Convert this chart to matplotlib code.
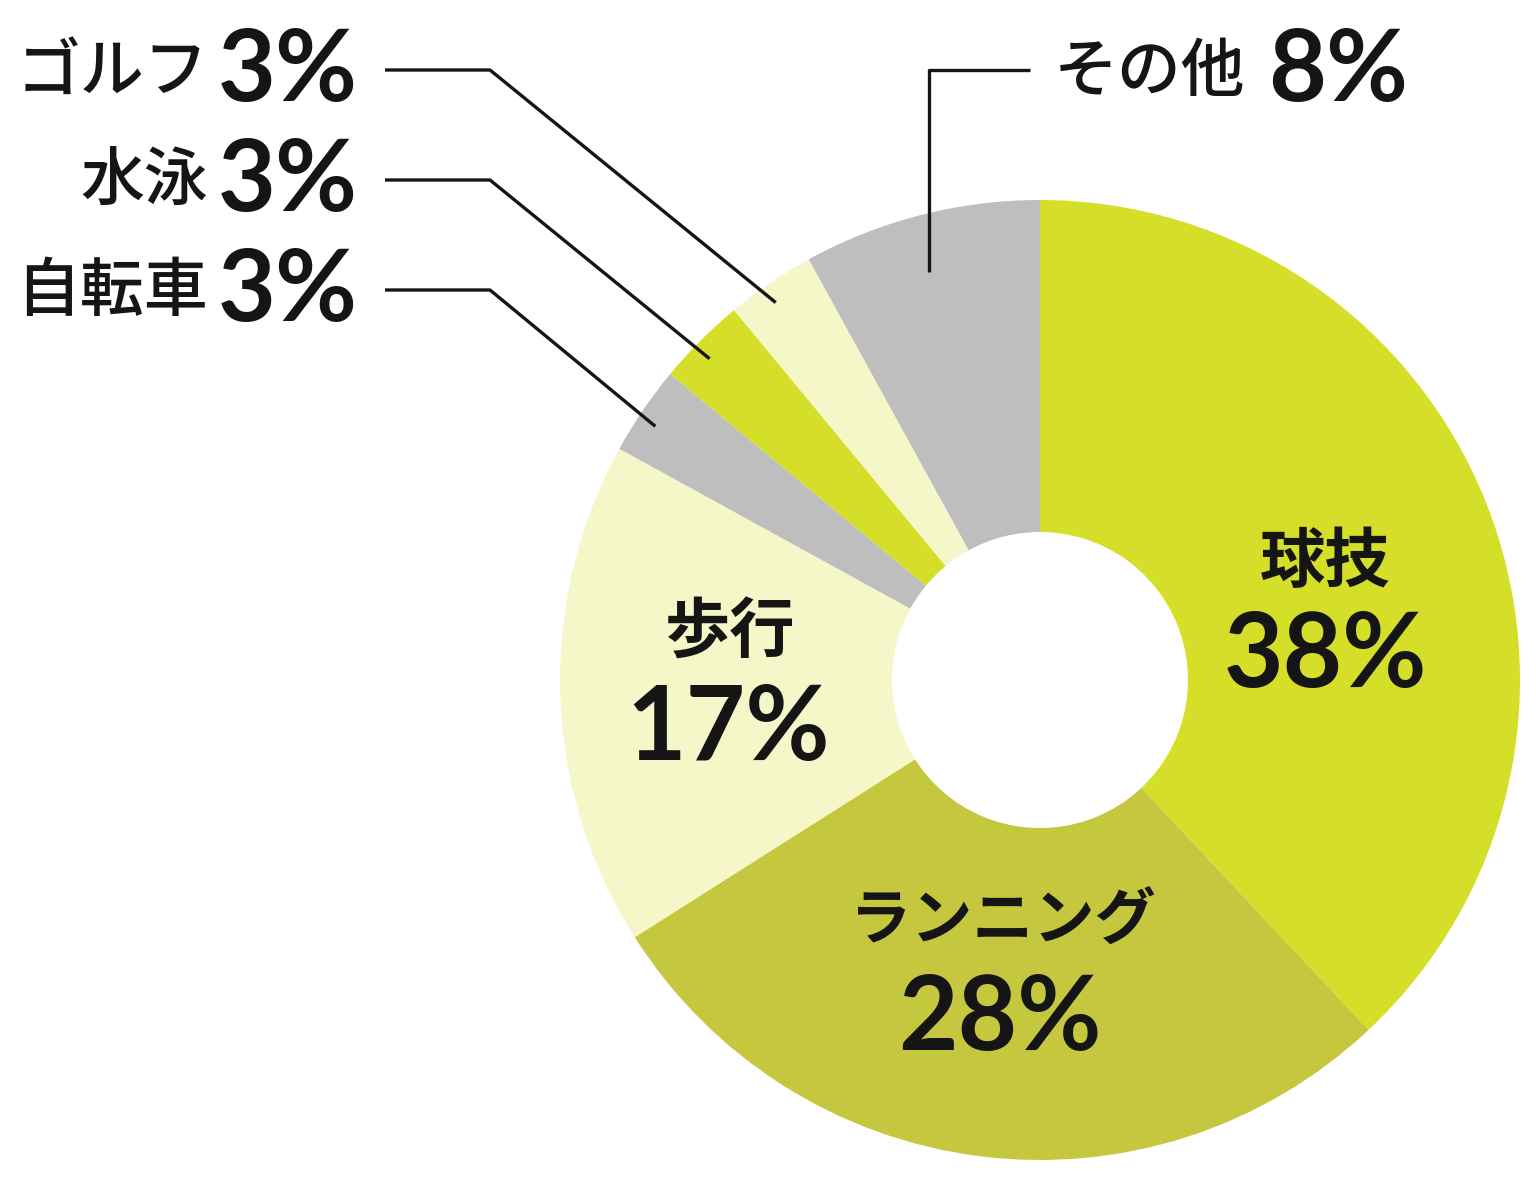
import numpy as np
import matplotlib.pyplot as plt

plt.rcParams['font.family'] = ['Noto Sans CJK JP', 'DejaVu Sans']

# data
labels = ['球技', 'ランニング', '歩行', '自転車', '水泳', 'ゴルフ', 'その他']
values = [38, 28, 17, 3, 3, 3, 8]
colors = ['#d5de28', '#c5c83f', '#f6f7c8', '#bebebe', '#d5de28', '#f6f7c8', '#bebebe']

W, H = 1536, 1198
cx, cy = 1040, H - 680
R, r_in = 480, 148

fig = plt.figure(figsize=(W / 100, H / 100), dpi=100)
ax = fig.add_axes([0, 0, 1, 1])
ax.set_xlim(0, W)
ax.set_ylim(0, H)
ax.set_aspect('equal')
ax.axis('off')

wedges, _ = ax.pie(values, colors=colors, startangle=90, counterclock=False,
                   radius=R, center=(cx, cy),
                   wedgeprops=dict(width=R - r_in, linewidth=0))
ax.set_xlim(0, W)
ax.set_ylim(0, H)

def Y(y):
    return H - y

txt = '#151515'
num_font = dict(family=['Lato', 'DejaVu Sans'], fontweight='bold')

# labels inside the ring
inside = {0: (1325, 562, 1325, 657, 47), 1: (1003, 922, 1000, 1020, 44), 2: (730, 633, 728, 730, 47)}
for i, (xn, yn, xv, yv, fs) in inside.items():
    ax.text(xn, Y(yn), labels[i], ha='center', va='center', fontsize=fs, color=txt, fontweight='bold')
    ax.text(xv, Y(yv), f'{values[i]}%', ha='center', va='center', fontsize=74, color=txt, **num_font)

# outside labels with leader lines
def mid_point(i, frac):
    start = 90 - 360 * sum(values[:i]) / 100
    end = 90 - 360 * sum(values[:i + 1]) / 100
    a = np.deg2rad((start + end) / 2 + 0.8)
    return cx + R * frac * np.cos(a), cy + R * frac * np.sin(a)

left = {5: 70, 4: 180, 3: 290}
for i, yl in left.items():
    ax.text(208, Y(yl + 2), labels[i], ha='right', va='center', fontsize=46, color=txt, fontweight='medium')
    ax.text(358, Y(yl + 2), f'{values[i]}%', ha='right', va='center', fontsize=72, color=txt, **num_font)
    px, py = mid_point(i, 0.96)
    ax.plot([385, 490, px], [Y(yl), Y(yl), py],
            color=txt, linewidth=2.4, solid_capstyle='butt')

# その他
px, py = mid_point(6, 0.88)
ax.plot([1030, px, px], [Y(70), Y(70), py], color=txt, linewidth=2.4, solid_capstyle='butt')
ax.text(1245, Y(73), labels[6], ha='right', va='center', fontsize=46, color=txt, fontweight='medium')
ax.text(1268, Y(73), f'{values[6]}%', ha='left', va='center', fontsize=72, color=txt, **num_font)

fig.savefig('out.png', dpi=100)
